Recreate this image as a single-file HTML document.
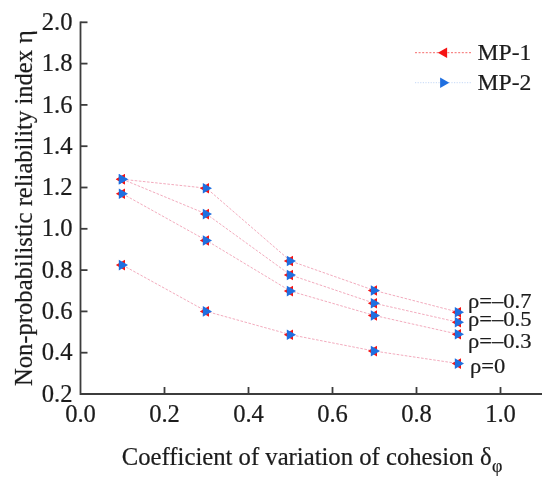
<!DOCTYPE html>
<html><head><meta charset="utf-8"><title>chart</title>
<style>
html,body{margin:0;padding:0;background:#fff;}
body{width:550px;height:484px;overflow:hidden;}
svg{display:block;}
text{font-family:"Liberation Serif","DejaVu Serif",serif;fill:#1c1c1c;stroke:#1c1c1c;stroke-width:0.22px;}
</style></head><body>
<svg width="550" height="484" viewBox="0 0 550 484">
<rect width="550" height="484" fill="#fff"/>

<g stroke="#3c3c3c" stroke-width="1.8" fill="none">
<path d="M80.5,21.5 V394.0 H542"/>
<path d="M80.5,352.7 h7"/>
<path d="M80.5,311.4 h7"/>
<path d="M80.5,270.1 h7"/>
<path d="M80.5,228.8 h7"/>
<path d="M80.5,187.5 h7"/>
<path d="M80.5,146.2 h7"/>
<path d="M80.5,104.9 h7"/>
<path d="M80.5,63.6 h7"/>
<path d="M80.5,22.3 h7"/>
<path d="M164.5,394.0 v-7"/>
<path d="M248.5,394.0 v-7"/>
<path d="M332.5,394.0 v-7"/>
<path d="M416.5,394.0 v-7"/>
<path d="M500.5,394.0 v-7"/>
</g>
<g font-size="24.6">
<text x="72.5" y="401.6" text-anchor="end">0.2</text>
<text x="72.5" y="360.3" text-anchor="end">0.4</text>
<text x="72.5" y="319.0" text-anchor="end">0.6</text>
<text x="72.5" y="277.7" text-anchor="end">0.8</text>
<text x="72.5" y="236.4" text-anchor="end">1.0</text>
<text x="72.5" y="195.1" text-anchor="end">1.2</text>
<text x="72.5" y="153.8" text-anchor="end">1.4</text>
<text x="72.5" y="112.5" text-anchor="end">1.6</text>
<text x="72.5" y="71.2" text-anchor="end">1.8</text>
<text x="72.5" y="29.9" text-anchor="end">2.0</text>
<text x="80.5" y="421.8" text-anchor="middle">0.0</text>
<text x="164.5" y="421.8" text-anchor="middle">0.2</text>
<text x="248.5" y="421.8" text-anchor="middle">0.4</text>
<text x="332.5" y="421.8" text-anchor="middle">0.6</text>
<text x="416.5" y="421.8" text-anchor="middle">0.8</text>
<text x="500.5" y="421.8" text-anchor="middle">1.0</text>
</g>
<g stroke="#f1a2b5" stroke-width="0.9" stroke-dasharray="2.6 1.5" fill="none">
<path d="M122.5,179.3 L206.5,188.2 L290.5,261.0 L374.5,290.5 L458.5,312.2"/>
<path d="M122.5,179.3 L206.5,214.1 L290.5,275.0 L374.5,303.3 L458.5,322.3"/>
<path d="M122.5,193.8 L206.5,240.5 L290.5,291.1 L374.5,315.5 L458.5,334.3"/>
<path d="M122.5,265.1 L206.5,311.4 L290.5,334.7 L374.5,351.1 L458.5,363.6"/>
</g>
<path d="M115.8,179.3 L125.0,174.0 L125.0,184.6Z" fill="#f51414"/>
<path d="M115.8,179.3 L125.0,174.0 L125.0,184.6Z" fill="#f51414"/>
<path d="M115.8,193.8 L125.0,188.5 L125.0,199.1Z" fill="#f51414"/>
<path d="M115.8,265.1 L125.0,259.8 L125.0,270.4Z" fill="#f51414"/>
<path d="M199.8,188.2 L209.0,182.9 L209.0,193.5Z" fill="#f51414"/>
<path d="M199.8,214.1 L209.0,208.8 L209.0,219.4Z" fill="#f51414"/>
<path d="M199.8,240.5 L209.0,235.2 L209.0,245.8Z" fill="#f51414"/>
<path d="M199.8,311.4 L209.0,306.1 L209.0,316.7Z" fill="#f51414"/>
<path d="M283.8,261.0 L293.0,255.7 L293.0,266.3Z" fill="#f51414"/>
<path d="M283.8,275.0 L293.0,269.7 L293.0,280.3Z" fill="#f51414"/>
<path d="M283.8,291.1 L293.0,285.8 L293.0,296.4Z" fill="#f51414"/>
<path d="M283.8,334.7 L293.0,329.4 L293.0,340.0Z" fill="#f51414"/>
<path d="M367.8,290.5 L377.0,285.2 L377.0,295.8Z" fill="#f51414"/>
<path d="M367.8,303.3 L377.0,298.0 L377.0,308.6Z" fill="#f51414"/>
<path d="M367.8,315.5 L377.0,310.2 L377.0,320.8Z" fill="#f51414"/>
<path d="M367.8,351.1 L377.0,345.8 L377.0,356.4Z" fill="#f51414"/>
<path d="M451.8,312.2 L461.0,306.9 L461.0,317.5Z" fill="#f51414"/>
<path d="M451.8,322.3 L461.0,317.0 L461.0,327.6Z" fill="#f51414"/>
<path d="M451.8,334.3 L461.0,329.0 L461.0,339.6Z" fill="#f51414"/>
<path d="M451.8,363.6 L461.0,358.3 L461.0,368.9Z" fill="#f51414"/>
<path d="M128.0,179.3 L118.8,174.0 L118.8,184.6Z" fill="#1f6fe0"/>
<path d="M128.0,179.3 L118.8,174.0 L118.8,184.6Z" fill="#1f6fe0"/>
<path d="M128.0,193.8 L118.8,188.5 L118.8,199.1Z" fill="#1f6fe0"/>
<path d="M128.0,265.1 L118.8,259.8 L118.8,270.4Z" fill="#1f6fe0"/>
<path d="M212.0,188.2 L202.8,182.9 L202.8,193.5Z" fill="#1f6fe0"/>
<path d="M212.0,214.1 L202.8,208.8 L202.8,219.4Z" fill="#1f6fe0"/>
<path d="M212.0,240.5 L202.8,235.2 L202.8,245.8Z" fill="#1f6fe0"/>
<path d="M212.0,311.4 L202.8,306.1 L202.8,316.7Z" fill="#1f6fe0"/>
<path d="M296.0,261.0 L286.8,255.7 L286.8,266.3Z" fill="#1f6fe0"/>
<path d="M296.0,275.0 L286.8,269.7 L286.8,280.3Z" fill="#1f6fe0"/>
<path d="M296.0,291.1 L286.8,285.8 L286.8,296.4Z" fill="#1f6fe0"/>
<path d="M296.0,334.7 L286.8,329.4 L286.8,340.0Z" fill="#1f6fe0"/>
<path d="M380.0,290.5 L370.8,285.2 L370.8,295.8Z" fill="#1f6fe0"/>
<path d="M380.0,303.3 L370.8,298.0 L370.8,308.6Z" fill="#1f6fe0"/>
<path d="M380.0,315.5 L370.8,310.2 L370.8,320.8Z" fill="#1f6fe0"/>
<path d="M380.0,351.1 L370.8,345.8 L370.8,356.4Z" fill="#1f6fe0"/>
<path d="M464.0,312.2 L454.8,306.9 L454.8,317.5Z" fill="#1f6fe0"/>
<path d="M464.0,322.3 L454.8,317.0 L454.8,327.6Z" fill="#1f6fe0"/>
<path d="M464.0,334.3 L454.8,329.0 L454.8,339.6Z" fill="#1f6fe0"/>
<path d="M464.0,363.6 L454.8,358.3 L454.8,368.9Z" fill="#1f6fe0"/>
<path d="M415,52.7 H471.5" stroke="#f56a6a" stroke-width="1" stroke-dasharray="2 1.6" fill="none"/>
<path d="M415,82.7 H471.5" stroke="#c4d8f6" stroke-width="1" stroke-dasharray="1.2 1.4" fill="none"/>
<path d="M437.9,52.7 L447.1,47.4 L447.1,58.0Z" fill="#f51414"/>
<path d="M449.3,82.7 L440.1,77.4 L440.1,88.0Z" fill="#1f6fe0"/>
<g font-size="23.6"><text x="477.6" y="60.4">MP-1</text><text x="477.6" y="90.4">MP-2</text></g>
<g font-size="22.6">
<text transform="translate(468,308.1) scale(1,0.9)">ρ=–0.7</text>
<text transform="translate(468,326.0) scale(1,0.9)">ρ=–0.5</text>
<text transform="translate(468,348.0) scale(1,0.9)">ρ=–0.3</text>
<text transform="translate(470,372.8) scale(1,0.9)">ρ=0</text>
</g>
<text font-size="24.7" x="121.8" y="464.8">Coefficient of variation of cohesion δ<tspan font-size="18" dy="7" dx="0.5">φ</tspan></text>
<text font-size="24.6" transform="translate(31.8,386) rotate(-90)">Non-probabilistic reliability index<tspan dx="6.5" font-size="25.5">η</tspan></text>
</svg></body></html>
